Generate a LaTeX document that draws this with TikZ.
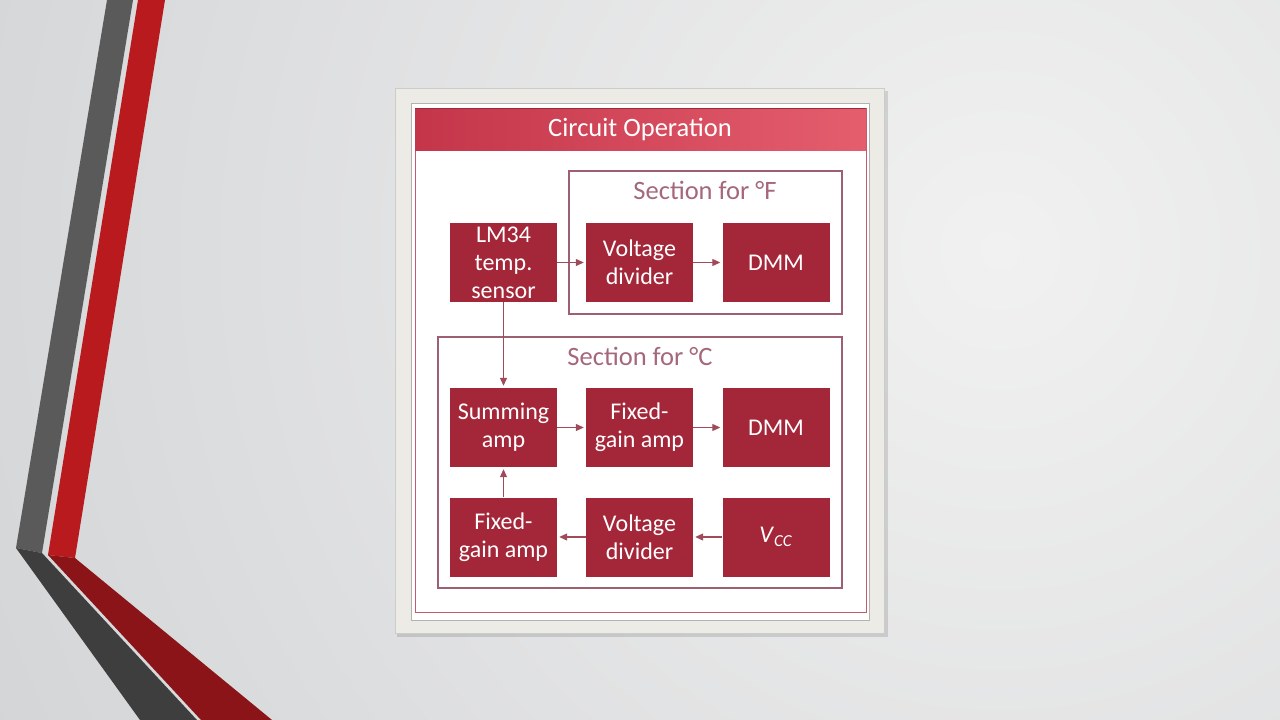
\documentclass[tikz,border=0pt]{standalone}
\usepackage{fontspec}
\setmainfont{Carlito}
\usetikzlibrary{arrows.meta}
\definecolor{bglight}{HTML}{F1F1F1}
\definecolor{bgdark}{HTML}{B2B5B9}
\definecolor{stripegray}{HTML}{5A5A5A}
\definecolor{stripegraydk}{HTML}{3E3E3E}
\definecolor{stripered}{HTML}{B91A1E}
\definecolor{striperddk}{HTML}{8A1417}
\definecolor{framecol}{HTML}{EDEBE5}
\definecolor{blockred}{HTML}{A42639}
\definecolor{arrowcol}{HTML}{A04A5A}
\definecolor{secline}{HTML}{9C6070}
\definecolor{sectext}{HTML}{A5687A}
\definecolor{titleL}{HTML}{C4354A}
\definecolor{titleM}{HTML}{DC5165}
\definecolor{titleR}{HTML}{E45E6E}
\definecolor{contentline}{HTML}{C55A6C}
\tikzset{
  blk/.style={fill=blockred, minimum width=107pt, minimum height=79pt, text=white,
    align=center, inner sep=0pt, font=\fontsize{24}{28}\selectfont},
  arr/.style={draw=arrowcol, line width=1.1pt, -{Triangle[length=8pt,width=7pt]}, shorten >=2pt},
  seclabel/.style={text=sectext, font=\fontsize{26.5}{30}\selectfont, inner sep=0pt},
  secbox/.style={draw=secline, line width=1.6pt}
}
\begin{document}
\begin{tikzpicture}[x=1pt,y=-1pt]
\useasboundingbox (0,0) rectangle (1280,720);
% background
\begin{scope}
\clip (0,0) rectangle (1280,720);
\shade[inner color=bglight, outer color=bgdark] (-1400,-2150) rectangle (3400,2650);
\end{scope}
% decorative stripes
\fill[stripegray] (107,0) -- (133,0) -- (42,553) -- (16,548) -- cycle;
\fill[stripered] (138,0) -- (165,0) -- (75,558) -- (48,555) -- cycle;
\fill[stripegraydk] (16,548) -- (42,553) -- (197,720) -- (140,720) -- cycle;
\fill[striperddk] (48,555) -- (75,558) -- (272,720) -- (201,720) -- cycle;
% frame
\fill[black, opacity=0.12] (397,91) rectangle (888,637);
\fill[framecol] (395,88) rectangle (884,633);
\draw[black!20, line width=0.8pt] (395,88) rectangle (884,633);
\fill[white] (411,103) rectangle (869,620);
\draw[black!30, line width=0.8pt] (411,103) rectangle (869,620);
\draw[contentline, line width=1pt] (415,108) rectangle (866,612);
\shade[left color=titleL, middle color=titleM, right color=titleR] (415,108) rectangle (866,150);
\draw[titleL!80!black, line width=1pt] (415,108) -- (866,108);
\node[text=white, font=\fontsize{26.5}{30}\selectfont, inner sep=0pt] (title) at (640,129) {Circuit Operation};
% sections
\draw[secbox] (569,171) rectangle (842,314);
\draw[secbox] (438,337) rectangle (842,588);
\node[seclabel] (secF) at (705,190) {Section for °F};
\node[seclabel] (secC) at (640,356) {Section for °C};
% blocks
\node[blk] (lm) at (503.5,262.5) {LM34\\temp.\\sensor};
\node[blk] (vdf) at (639.5,262.5) {Voltage\\divider};
\node[blk] (dmmf) at (776,262.5) {DMM};
\node[blk] (sum) at (503.5,427.5) {Summing\\amp};
\node[blk] (fga) at (639.5,427.5) {Fixed-\\gain amp};
\node[blk] (dmmc) at (776,427.5) {DMM};
\node[blk] (fgb) at (503.5,537) {Fixed-\\gain amp};
\node[blk] (vdc) at (639.5,537) {Voltage\\divider};
\node[blk] (vcc) at (776,537) {\textit{V}\textsubscript{\textit{CC}}};
% connectors
\draw[arr] (lm.east) -- (vdf.west);
\draw[arr] (vdf.east) -- (dmmf.west);
\draw[arr] (lm.south) -- (sum.north);
\draw[arr] (sum.east) -- (fga.west);
\draw[arr] (fga.east) -- (dmmc.west);
\draw[arr] (vcc.west) -- (vdc.east);
\draw[arr] (vdc.west) -- (fgb.east);
\draw[arr] (fgb.north) -- (sum.south);
\end{tikzpicture}
\end{document}
